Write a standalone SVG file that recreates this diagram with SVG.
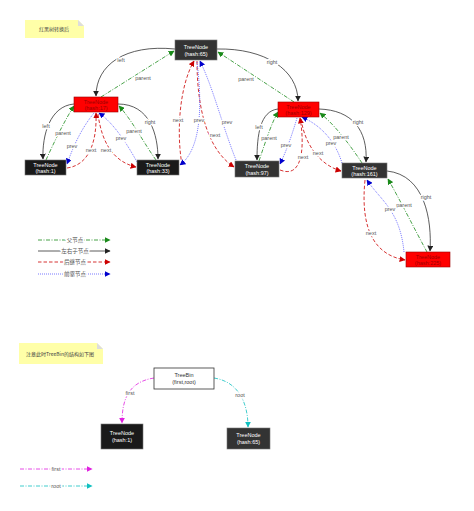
<svg xmlns="http://www.w3.org/2000/svg" width="474" height="511" viewBox="0 0 474 511">
<style>
.n rect{stroke:#777;stroke-width:0.6}
.dk rect{fill:#333}
.bk rect{fill:#1a1a1a}
.rd rect{fill:#ff0000;stroke:#900}
.wt rect{fill:#fff;stroke:#333;stroke-width:0.8}
.n text{font-family:"Liberation Sans",Arial,sans-serif;font-size:5.5px;text-anchor:middle;fill:#fff}
.rd text{fill:#900}
.wt text{fill:#333}
.e path{fill:none;stroke-width:0.8}
.g{stroke:#1a8a1a;stroke-dasharray:4 1.5 1 1.5}
.k{stroke:#333}
.r{stroke:#c00;stroke-dasharray:3.5 2}
.b{stroke:#55f;stroke-dasharray:1 1}
.m{stroke:#e020e0;stroke-dasharray:4 1.5 1 1.5}
.c{stroke:#10c0c0;stroke-dasharray:4 1.5 1 1.5}
.l{font-family:"Liberation Sans",Arial,sans-serif;font-size:5.5px;fill:#555;text-anchor:middle;paint-order:stroke;stroke:#fff;stroke-width:2.5px}
.note{font-family:"Noto Sans CJK SC","Liberation Sans",sans-serif;font-size:5px;fill:#444}
.lg{font-family:"Noto Sans CJK SC","Liberation Sans",sans-serif;font-size:5.5px;fill:#555;text-anchor:middle;paint-order:stroke;stroke:#fff;stroke-width:3px}
</style>
<defs>
<marker id="ag" viewBox="0 0 10 10" refX="9" refY="5" markerWidth="6" markerHeight="6" markerUnits="userSpaceOnUse" orient="auto"><path d="M0,0L10,5L0,10z" fill="#1a8a1a"/></marker>
<marker id="ak" viewBox="0 0 10 10" refX="9" refY="5" markerWidth="6" markerHeight="6" markerUnits="userSpaceOnUse" orient="auto"><path d="M0,0L10,5L0,10z" fill="#222"/></marker>
<marker id="ar" viewBox="0 0 10 10" refX="9" refY="5" markerWidth="6" markerHeight="6" markerUnits="userSpaceOnUse" orient="auto"><path d="M0,0L10,5L0,10z" fill="#c00"/></marker>
<marker id="ab" viewBox="0 0 10 10" refX="9" refY="5" markerWidth="6" markerHeight="6" markerUnits="userSpaceOnUse" orient="auto"><path d="M0,0L10,5L0,10z" fill="#00c"/></marker>
<marker id="am" viewBox="0 0 10 10" refX="9" refY="5" markerWidth="6" markerHeight="6" markerUnits="userSpaceOnUse" orient="auto"><path d="M0,0L10,5L0,10z" fill="#e020e0"/></marker>
<marker id="ac" viewBox="0 0 10 10" refX="9" refY="5" markerWidth="6" markerHeight="6" markerUnits="userSpaceOnUse" orient="auto"><path d="M0,0L10,5L0,10z" fill="#10c0c0"/></marker>
</defs>
<rect width="474" height="511" fill="#fff"/>

<g id="note1">
<path d="M25,20H78L84,26V38H25Z" fill="#ffffa8"/>
<path d="M78,20L84,26H78Z" fill="#ddd"/>
<text class="note" x="54" y="31" text-anchor="middle">红黑树转换后</text>
</g>

<g id="connectors" class="e">
<!-- root <-> left red -->
<path class="k" d="M175,49C125,44 96,65 96,96" marker-end="url(#ak)"/>
<path class="g" d="M101,97L174,51" marker-end="url(#ag)"/>
<!-- root <-> right red -->
<path class="k" d="M217,49C265,48 298,70 298,101" marker-end="url(#ak)"/>
<path class="g" d="M294,102L218,52" marker-end="url(#ag)"/>
<!-- root linked list -->
<path class="r" d="M197,61C197,110 208,150 234,167" marker-end="url(#ar)"/>
<path class="r" d="M182,165C176,130 180,85 194,61" marker-end="url(#ar)"/>
<path class="b" d="M197,62C203,110 200,150 180,165" marker-end="url(#ab)"/>
<path class="b" d="M236,160C222,125 214,90 200,61" marker-end="url(#ab)"/>
<!-- left subtree -->
<path class="k" d="M74,104C50,106 42,135 43,159" marker-end="url(#ak)"/>
<path class="g" d="M46,160C55,140 66,118 74,106" marker-end="url(#ag)"/>
<path class="k" d="M118,104C150,104 158,135 158,159" marker-end="url(#ak)"/>
<path class="g" d="M156,160C145,145 132,120 119,106" marker-end="url(#ag)"/>
<path class="b" d="M94,113C80,130 72,150 67,164" marker-end="url(#ab)"/>
<path class="r" d="M67,168C90,165 97,140 96,113" marker-end="url(#ar)"/>
<path class="r" d="M98,114C102,145 115,162 136,167" marker-end="url(#ar)"/>
<path class="b" d="M137,162C125,140 112,122 99,113" marker-end="url(#ab)"/>
<!-- right subtree (129) -->
<path class="k" d="M278,109C260,111 257,135 257,160" marker-end="url(#ak)"/>
<path class="g" d="M259,161C266,140 272,122 278,112" marker-end="url(#ag)"/>
<path class="b" d="M297,118C292,135 286,152 280,164" marker-end="url(#ab)"/>
<path class="r" d="M280,170C305,180 304,140 300,118" marker-end="url(#ar)"/>
<path class="r" d="M301,119C305,145 320,165 341,171" marker-end="url(#ar)"/>
<path class="b" d="M342,163C335,140 320,125 302,117" marker-end="url(#ab)"/>
<path class="k" d="M319,109C352,110 368,130 366,162" marker-end="url(#ak)"/>
<path class="g" d="M362,163C350,145 335,125 320,113" marker-end="url(#ag)"/>
<!-- 161 subtree -->
<path class="k" d="M387,171C425,175 432,220 430,251" marker-end="url(#ak)"/>
<path class="g" d="M427,252C415,230 400,200 388,179" marker-end="url(#ag)"/>
<path class="r" d="M365,180C360,230 375,255 405,260" marker-end="url(#ar)"/>
<path class="b" d="M404,252C400,210 380,200 367,180" marker-end="url(#ab)"/>
<!-- labels -->
<text class="l" x="121" y="62">left</text>
<text class="l" x="143" y="80">parent</text>
<text class="l" x="272" y="64">right</text>
<text class="l" x="246" y="81">parent</text>
<text class="l" x="178" y="122">next</text>
<text class="l" x="199" y="122">prev</text>
<text class="l" x="215" y="137">next</text>
<text class="l" x="227" y="124">prev</text>
<text class="l" x="46" y="128">left</text>
<text class="l" x="63" y="135">parent</text>
<text class="l" x="72" y="148">prev</text>
<text class="l" x="91" y="152">next</text>
<text class="l" x="106" y="152">next</text>
<text class="l" x="121" y="140">prev</text>
<text class="l" x="134" y="133">parent</text>
<text class="l" x="150" y="124">right</text>
<text class="l" x="259" y="129">left</text>
<text class="l" x="269" y="140">parent</text>
<text class="l" x="286" y="147">prev</text>
<text class="l" x="303" y="159">next</text>
<text class="l" x="318" y="155">next</text>
<text class="l" x="331" y="145">prev</text>
<text class="l" x="341" y="139">parent</text>
<text class="l" x="358" y="124">right</text>
<text class="l" x="426" y="199">right</text>
<text class="l" x="404" y="207">parent</text>
<text class="l" x="390" y="211">prev</text>
<text class="l" x="371" y="235">next</text>
<!-- bottom -->
<path class="m" d="M154,378C128,382 122,400 122,423" marker-end="url(#am)"/>
<path class="c" d="M214,378C240,382 248,405 248,427" marker-end="url(#ac)"/>
<text class="l" x="130" y="395">first</text>
<text class="l" x="240" y="397">root</text>
</g>

<g id="root65" class="n dk"><rect x="175" y="40" width="42" height="20"/><text x="196" y="48.5">TreeNode</text><text x="196" y="55.5">(hash:65)</text></g>
<g id="red17" class="n rd"><rect x="74" y="97" width="44" height="15"/><text x="96" y="103.5">TreeNode</text><text x="96" y="110">(hash:17)</text></g>
<g id="n1" class="n bk"><rect x="25" y="160" width="41" height="15"/><text x="45.5" y="166.5">TreeNode</text><text x="45.5" y="173">(hash:1)</text></g>
<g id="n33" class="n bk"><rect x="137" y="160" width="42" height="15"/><text x="158" y="166.5">TreeNode</text><text x="158" y="173">(hash:33)</text></g>
<g id="n97" class="n dk"><rect x="235" y="161" width="44" height="16"/><text x="257" y="167.5">TreeNode</text><text x="257" y="174.5">(hash:97)</text></g>
<g id="red129" class="n rd"><rect x="278" y="102" width="41" height="15"/><text x="298.5" y="108.5">TreeNode</text><text x="298.5" y="115">(hash:129)</text></g>
<g id="n161" class="n dk"><rect x="342" y="163" width="45" height="15"/><text x="364.5" y="169.5">TreeNode</text><text x="364.5" y="176">(hash:161)</text></g>
<g id="red225" class="n rd"><rect x="406" y="252" width="44" height="15"/><text x="428" y="258.5">TreeNode</text><text x="428" y="265">(hash:225)</text></g>

<g id="legend1" class="e">
<path class="g" d="M38,240H110" marker-end="url(#ag)"/>
<path class="k" d="M38,251H110" marker-end="url(#ak)"/>
<path class="r" d="M38,262H110" marker-end="url(#ar)"/>
<path class="b" d="M38,274H110" marker-end="url(#ab)"/>
<text class="lg" x="75" y="242">父节点</text>
<text class="lg" x="75" y="253">左右子节点</text>
<text class="lg" x="75" y="264">后继节点</text>
<text class="lg" x="75" y="276">前驱节点</text>
</g>

<g id="note2">
<path d="M19,343H97L103,349V364H19Z" fill="#ffffa8"/>
<path d="M97,343L103,349H97Z" fill="#ddd"/>
<text class="note" x="60" y="356" text-anchor="middle">注意此时TreeBin的结构如下图</text>
</g>

<g id="treebin" class="n wt"><rect x="154" y="368" width="60" height="21"/><text x="184" y="376.5">TreeBin</text><text x="184" y="384">(first,root)</text></g>
<g id="b1" class="n bk"><rect x="101" y="424" width="42" height="25"/><text x="122" y="435">TreeNode</text><text x="122" y="442">(hash:1)</text></g>
<g id="b65" class="n dk"><rect x="227" y="428" width="43" height="21"/><text x="248.5" y="437">TreeNode</text><text x="248.5" y="444">(hash:65)</text></g>

<g id="legend2" class="e">
<path class="m" d="M20,469H92" marker-end="url(#am)"/>
<path class="c" d="M20,486H92" marker-end="url(#ac)"/>
<text class="l" x="56" y="471">first</text>
<text class="l" x="56" y="488">root</text>
</g>
</svg>
